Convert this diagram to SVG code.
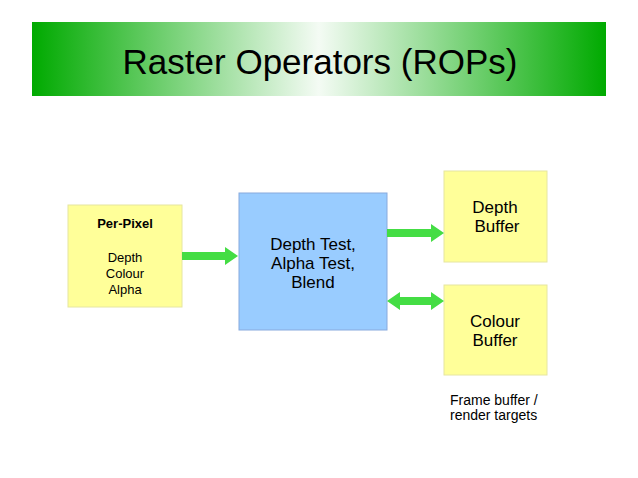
<svg xmlns="http://www.w3.org/2000/svg" width="638" height="478" viewBox="0 0 638 478">
<defs>
<linearGradient id="ban" x1="0" y1="0" x2="1" y2="0">
<stop offset="0" stop-color="#00aa00"/><stop offset="0.5" stop-color="#f4fbf4"/><stop offset="1" stop-color="#00aa00"/>
</linearGradient>
<style>
text{font-family:"Liberation Sans",Arial,sans-serif;fill:#000;text-anchor:middle}
.y{fill:#ffff99;stroke:#e6e6a0;stroke-width:1}
.b{fill:#99ccff;stroke:#88aadd;stroke-width:1}
.a{fill:#44dd44}
</style>
</defs>
<rect width="638" height="478" fill="#fff"/>
<rect x="32" y="22" width="574" height="74" fill="url(#ban)"/>
<text x="320" y="74" font-size="35">Raster Operators (ROPs)</text>
<g id="perpixel"><rect class="y" x="68" y="205" width="114" height="102"/>
<text x="125" y="228" font-size="13" font-weight="bold">Per-Pixel</text>
<text x="125" y="262" font-size="13">Depth</text><text x="125" y="278" font-size="13">Colour</text><text x="125" y="294" font-size="13">Alpha</text></g>
<g id="rop"><rect class="b" x="239" y="193" width="148" height="137"/>
<text x="313" y="250" font-size="17">Depth Test,</text><text x="313" y="269" font-size="17">Alpha Test,</text><text x="313" y="288" font-size="17">Blend</text></g>
<g id="depth"><rect class="y" x="444" y="171" width="103" height="91"/>
<text x="495" y="213" font-size="17">Depth</text><text x="497" y="232" font-size="17">Buffer</text></g>
<g id="colour"><rect class="y" x="444" y="285" width="103" height="90"/>
<text x="495" y="327" font-size="17">Colour</text><text x="495" y="346" font-size="17">Buffer</text></g>
<text x="450" y="405" font-size="14" text-anchor="start" style="text-anchor:start">Frame buffer /</text>
<text x="450" y="420" font-size="14" style="text-anchor:start">render targets</text>
<g id="connectors">
<polygon class="a" points="182,252 225,252 225,247 238,256 225,265 225,260 182,260"/>
<polygon class="a" points="387,229 431,229 431,224 444,233 431,242 431,237 387,237"/>
<polygon class="a" points="387,301 400,292 400,297 431,297 431,292 444,301 431,310 431,305 400,305 400,310"/>
</g>
</svg>
